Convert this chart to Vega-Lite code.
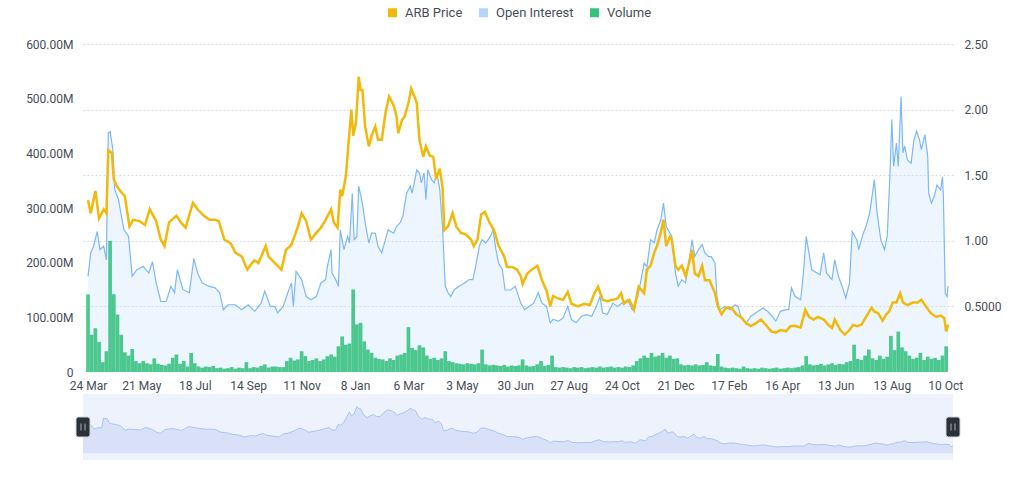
{
  "$schema": "https://vega.github.io/schema/vega-lite/v6.json",
  "background": "white",
  "padding": {"left": 25, "top": 6, "right": 5, "bottom": 5},
  "config": {"font": "Roboto", "view": {"stroke": null}},
  "datasets": {
    "price": [
      {"date":"2023-03-24","price":1.31},{"date":"2023-03-27","price":1.21},{"date":"2023-04-01","price":1.38},{"date":"2023-04-05","price":1.17},{"date":"2023-04-10","price":1.24},{"date":"2023-04-13","price":1.21},{"date":"2023-04-15","price":1.69},{"date":"2023-04-19","price":1.67},{"date":"2023-04-21","price":1.47},{"date":"2023-04-24","price":1.42},{"date":"2023-04-28","price":1.38},{"date":"2023-05-03","price":1.34},{"date":"2023-05-08","price":1.11},{"date":"2023-05-12","price":1.16},{"date":"2023-05-19","price":1.15},{"date":"2023-05-25","price":1.12},{"date":"2023-05-30","price":1.24},{"date":"2023-06-03","price":1.19},{"date":"2023-06-06","price":1.15},{"date":"2023-06-11","price":1.01},{"date":"2023-06-15","price":0.96},{"date":"2023-06-20","price":1.14},{"date":"2023-06-28","price":1.19},{"date":"2023-07-03","price":1.14},{"date":"2023-07-08","price":1.10},{"date":"2023-07-16","price":1.29},{"date":"2023-07-21","price":1.24},{"date":"2023-07-28","price":1.19},{"date":"2023-08-03","price":1.16},{"date":"2023-08-09","price":1.16},{"date":"2023-08-13","price":1.15},{"date":"2023-08-19","price":1.01},{"date":"2023-08-26","price":0.98},{"date":"2023-08-31","price":0.91},{"date":"2023-09-07","price":0.88},{"date":"2023-09-13","price":0.78},{"date":"2023-09-18","price":0.83},{"date":"2023-09-21","price":0.85},{"date":"2023-09-25","price":0.83},{"date":"2023-10-03","price":0.96},{"date":"2023-10-06","price":0.88},{"date":"2023-10-13","price":0.83},{"date":"2023-10-20","price":0.78},{"date":"2023-10-25","price":0.93},{"date":"2023-10-31","price":0.97},{"date":"2023-11-03","price":1.03},{"date":"2023-11-07","price":1.11},{"date":"2023-11-11","price":1.21},{"date":"2023-11-16","price":1.15},{"date":"2023-11-21","price":1.01},{"date":"2023-11-27","price":1.06},{"date":"2023-12-02","price":1.10},{"date":"2023-12-07","price":1.16},{"date":"2023-12-13","price":1.24},{"date":"2023-12-16","price":1.14},{"date":"2023-12-20","price":1.10},{"date":"2023-12-23","price":1.39},{"date":"2023-12-25","price":1.34},{"date":"2023-12-29","price":1.49},{"date":"2024-01-01","price":1.75},{"date":"2024-01-04","price":2.00},{"date":"2024-01-06","price":1.80},{"date":"2024-01-09","price":1.90},{"date":"2024-01-12","price":2.25},{"date":"2024-01-14","price":2.15},{"date":"2024-01-16","price":2.15},{"date":"2024-01-19","price":1.87},{"date":"2024-01-23","price":1.72},{"date":"2024-01-26","price":1.80},{"date":"2024-01-30","price":1.87},{"date":"2024-02-02","price":1.77},{"date":"2024-02-06","price":1.77},{"date":"2024-02-10","price":1.97},{"date":"2024-02-14","price":2.10},{"date":"2024-02-19","price":2.03},{"date":"2024-02-22","price":1.95},{"date":"2024-02-24","price":1.82},{"date":"2024-02-28","price":1.92},{"date":"2024-03-02","price":1.95},{"date":"2024-03-06","price":2.05},{"date":"2024-03-09","price":2.16},{"date":"2024-03-13","price":2.09},{"date":"2024-03-15","price":2.05},{"date":"2024-03-18","price":1.77},{"date":"2024-03-22","price":1.64},{"date":"2024-03-25","price":1.72},{"date":"2024-03-29","price":1.65},{"date":"2024-04-02","price":1.64},{"date":"2024-04-05","price":1.47},{"date":"2024-04-09","price":1.55},{"date":"2024-04-12","price":1.41},{"date":"2024-04-14","price":1.08},{"date":"2024-04-18","price":1.11},{"date":"2024-04-23","price":1.21},{"date":"2024-04-27","price":1.11},{"date":"2024-05-02","price":1.06},{"date":"2024-05-07","price":1.05},{"date":"2024-05-13","price":1.01},{"date":"2024-05-16","price":0.96},{"date":"2024-05-20","price":1.01},{"date":"2024-05-24","price":1.20},{"date":"2024-05-28","price":1.22},{"date":"2024-06-02","price":1.14},{"date":"2024-06-07","price":1.08},{"date":"2024-06-12","price":0.96},{"date":"2024-06-18","price":0.88},{"date":"2024-06-21","price":0.80},{"date":"2024-06-27","price":0.80},{"date":"2024-07-02","price":0.78},{"date":"2024-07-06","price":0.73},{"date":"2024-07-08","price":0.67},{"date":"2024-07-13","price":0.75},{"date":"2024-07-18","price":0.78},{"date":"2024-07-24","price":0.81},{"date":"2024-07-29","price":0.70},{"date":"2024-08-03","price":0.62},{"date":"2024-08-07","price":0.50},{"date":"2024-08-10","price":0.58},{"date":"2024-08-16","price":0.56},{"date":"2024-08-21","price":0.55},{"date":"2024-08-26","price":0.61},{"date":"2024-08-30","price":0.52},{"date":"2024-09-06","price":0.50},{"date":"2024-09-13","price":0.52},{"date":"2024-09-19","price":0.51},{"date":"2024-09-24","price":0.60},{"date":"2024-09-28","price":0.65},{"date":"2024-10-03","price":0.55},{"date":"2024-10-08","price":0.54},{"date":"2024-10-14","price":0.55},{"date":"2024-10-19","price":0.56},{"date":"2024-10-23","price":0.60},{"date":"2024-10-26","price":0.52},{"date":"2024-11-01","price":0.55},{"date":"2024-11-06","price":0.475},{"date":"2024-11-11","price":0.65},{"date":"2024-11-17","price":0.60},{"date":"2024-11-20","price":0.78},{"date":"2024-11-24","price":0.81},{"date":"2024-11-28","price":0.91},{"date":"2024-12-01","price":0.96},{"date":"2024-12-05","price":1.06},{"date":"2024-12-08","price":1.16},{"date":"2024-12-11","price":0.96},{"date":"2024-12-15","price":1.03},{"date":"2024-12-17","price":1.01},{"date":"2024-12-21","price":0.81},{"date":"2024-12-24","price":0.78},{"date":"2024-12-28","price":0.81},{"date":"2025-01-01","price":0.73},{"date":"2025-01-04","price":0.81},{"date":"2025-01-08","price":0.93},{"date":"2025-01-11","price":0.75},{"date":"2025-01-15","price":0.73},{"date":"2025-01-19","price":0.81},{"date":"2025-01-22","price":0.70},{"date":"2025-01-27","price":0.70},{"date":"2025-02-02","price":0.60},{"date":"2025-02-05","price":0.50},{"date":"2025-02-09","price":0.44},{"date":"2025-02-14","price":0.49},{"date":"2025-02-20","price":0.49},{"date":"2025-02-25","price":0.44},{"date":"2025-03-02","price":0.42},{"date":"2025-03-08","price":0.37},{"date":"2025-03-13","price":0.35},{"date":"2025-03-18","price":0.37},{"date":"2025-03-24","price":0.40},{"date":"2025-03-29","price":0.36},{"date":"2025-04-04","price":0.31},{"date":"2025-04-09","price":0.30},{"date":"2025-04-14","price":0.32},{"date":"2025-04-20","price":0.31},{"date":"2025-04-25","price":0.35},{"date":"2025-04-30","price":0.35},{"date":"2025-05-06","price":0.34},{"date":"2025-05-11","price":0.475},{"date":"2025-05-15","price":0.42},{"date":"2025-05-20","price":0.40},{"date":"2025-05-25","price":0.42},{"date":"2025-05-31","price":0.40},{"date":"2025-06-05","price":0.36},{"date":"2025-06-09","price":0.335},{"date":"2025-06-12","price":0.40},{"date":"2025-06-18","price":0.32},{"date":"2025-06-23","price":0.285},{"date":"2025-06-28","price":0.32},{"date":"2025-07-02","price":0.36},{"date":"2025-07-06","price":0.35},{"date":"2025-07-11","price":0.36},{"date":"2025-07-16","price":0.42},{"date":"2025-07-22","price":0.49},{"date":"2025-07-25","price":0.46},{"date":"2025-07-29","price":0.45},{"date":"2025-08-03","price":0.39},{"date":"2025-08-07","price":0.44},{"date":"2025-08-10","price":0.46},{"date":"2025-08-14","price":0.53},{"date":"2025-08-18","price":0.53},{"date":"2025-08-22","price":0.60},{"date":"2025-08-25","price":0.53},{"date":"2025-08-30","price":0.51},{"date":"2025-09-05","price":0.53},{"date":"2025-09-10","price":0.53},{"date":"2025-09-14","price":0.55},{"date":"2025-09-19","price":0.50},{"date":"2025-09-24","price":0.45},{"date":"2025-09-30","price":0.42},{"date":"2025-10-05","price":0.43},{"date":"2025-10-09","price":0.41},{"date":"2025-10-11","price":0.31},{"date":"2025-10-13","price":0.36}
    ],
    "oi": [
      {"date":"2023-03-24","oi":175},{"date":"2023-03-27","oi":218},{"date":"2023-03-30","oi":230},{"date":"2023-04-03","oi":257},{"date":"2023-04-06","oi":224},{"date":"2023-04-10","oi":230},{"date":"2023-04-13","oi":205},{"date":"2023-04-15","oi":437},{"date":"2023-04-17","oi":440},{"date":"2023-04-20","oi":407},{"date":"2023-04-22","oi":334},{"date":"2023-04-26","oi":316},{"date":"2023-05-02","oi":260},{"date":"2023-05-07","oi":248},{"date":"2023-05-11","oi":175},{"date":"2023-05-16","oi":187},{"date":"2023-05-23","oi":193},{"date":"2023-05-29","oi":181},{"date":"2023-06-02","oi":202},{"date":"2023-06-06","oi":163},{"date":"2023-06-11","oi":129},{"date":"2023-06-17","oi":129},{"date":"2023-06-22","oi":157},{"date":"2023-06-26","oi":145},{"date":"2023-06-29","oi":187},{"date":"2023-07-05","oi":151},{"date":"2023-07-12","oi":145},{"date":"2023-07-17","oi":208},{"date":"2023-07-21","oi":181},{"date":"2023-07-26","oi":163},{"date":"2023-08-02","oi":157},{"date":"2023-08-09","oi":154},{"date":"2023-08-14","oi":145},{"date":"2023-08-18","oi":114},{"date":"2023-08-23","oi":123},{"date":"2023-08-31","oi":123},{"date":"2023-09-07","oi":114},{"date":"2023-09-14","oi":123},{"date":"2023-09-21","oi":111},{"date":"2023-09-28","oi":126},{"date":"2023-10-02","oi":148},{"date":"2023-10-08","oi":120},{"date":"2023-10-13","oi":120},{"date":"2023-10-16","oi":108},{"date":"2023-10-22","oi":120},{"date":"2023-10-27","oi":145},{"date":"2023-10-31","oi":163},{"date":"2023-11-02","oi":120},{"date":"2023-11-05","oi":184},{"date":"2023-11-11","oi":169},{"date":"2023-11-16","oi":138},{"date":"2023-11-21","oi":132},{"date":"2023-11-27","oi":138},{"date":"2023-12-02","oi":163},{"date":"2023-12-07","oi":169},{"date":"2023-12-09","oi":193},{"date":"2023-12-13","oi":224},{"date":"2023-12-14","oi":181},{"date":"2023-12-18","oi":169},{"date":"2023-12-21","oi":157},{"date":"2023-12-23","oi":260},{"date":"2023-12-27","oi":224},{"date":"2023-12-31","oi":248},{"date":"2024-01-02","oi":236},{"date":"2024-01-05","oi":327},{"date":"2024-01-07","oi":242},{"date":"2024-01-10","oi":248},{"date":"2024-01-12","oi":340},{"date":"2024-01-16","oi":309},{"date":"2024-01-19","oi":273},{"date":"2024-01-23","oi":236},{"date":"2024-01-26","oi":254},{"date":"2024-01-30","oi":254},{"date":"2024-02-02","oi":230},{"date":"2024-02-06","oi":218},{"date":"2024-02-10","oi":242},{"date":"2024-02-13","oi":260},{"date":"2024-02-19","oi":254},{"date":"2024-02-22","oi":266},{"date":"2024-02-26","oi":273},{"date":"2024-02-29","oi":285},{"date":"2024-03-04","oi":327},{"date":"2024-03-08","oi":340},{"date":"2024-03-10","oi":327},{"date":"2024-03-13","oi":352},{"date":"2024-03-15","oi":370},{"date":"2024-03-18","oi":364},{"date":"2024-03-20","oi":346},{"date":"2024-03-23","oi":364},{"date":"2024-03-25","oi":315},{"date":"2024-03-27","oi":370},{"date":"2024-03-31","oi":352},{"date":"2024-04-03","oi":346},{"date":"2024-04-06","oi":364},{"date":"2024-04-09","oi":334},{"date":"2024-04-12","oi":266},{"date":"2024-04-15","oi":157},{"date":"2024-04-18","oi":145},{"date":"2024-04-21","oi":138},{"date":"2024-04-25","oi":151},{"date":"2024-04-30","oi":157},{"date":"2024-05-06","oi":163},{"date":"2024-05-11","oi":169},{"date":"2024-05-15","oi":169},{"date":"2024-05-18","oi":193},{"date":"2024-05-22","oi":230},{"date":"2024-05-25","oi":242},{"date":"2024-05-29","oi":236},{"date":"2024-06-03","oi":248},{"date":"2024-06-06","oi":260},{"date":"2024-06-09","oi":224},{"date":"2024-06-12","oi":199},{"date":"2024-06-16","oi":187},{"date":"2024-06-19","oi":150},{"date":"2024-06-25","oi":150},{"date":"2024-06-30","oi":157},{"date":"2024-07-06","oi":126},{"date":"2024-07-10","oi":114},{"date":"2024-07-15","oi":120},{"date":"2024-07-20","oi":126},{"date":"2024-07-25","oi":145},{"date":"2024-07-29","oi":126},{"date":"2024-08-03","oi":120},{"date":"2024-08-07","oi":90},{"date":"2024-08-10","oi":96},{"date":"2024-08-16","oi":93},{"date":"2024-08-21","oi":99},{"date":"2024-08-26","oi":120},{"date":"2024-08-30","oi":96},{"date":"2024-09-04","oi":90},{"date":"2024-09-10","oi":102},{"date":"2024-09-15","oi":105},{"date":"2024-09-21","oi":102},{"date":"2024-09-26","oi":120},{"date":"2024-09-30","oi":138},{"date":"2024-10-03","oi":108},{"date":"2024-10-08","oi":105},{"date":"2024-10-14","oi":126},{"date":"2024-10-19","oi":120},{"date":"2024-10-24","oi":126},{"date":"2024-10-30","oi":132},{"date":"2024-11-04","oi":114},{"date":"2024-11-10","oi":138},{"date":"2024-11-13","oi":163},{"date":"2024-11-17","oi":199},{"date":"2024-11-20","oi":193},{"date":"2024-11-24","oi":242},{"date":"2024-11-28","oi":236},{"date":"2024-12-01","oi":260},{"date":"2024-12-05","oi":278},{"date":"2024-12-08","oi":309},{"date":"2024-12-11","oi":266},{"date":"2024-12-15","oi":254},{"date":"2024-12-17","oi":248},{"date":"2024-12-21","oi":181},{"date":"2024-12-24","oi":157},{"date":"2024-12-28","oi":169},{"date":"2025-01-01","oi":163},{"date":"2025-01-04","oi":193},{"date":"2025-01-08","oi":242},{"date":"2025-01-11","oi":211},{"date":"2025-01-15","oi":224},{"date":"2025-01-19","oi":233},{"date":"2025-01-22","oi":218},{"date":"2025-01-26","oi":211},{"date":"2025-01-29","oi":211},{"date":"2025-02-02","oi":199},{"date":"2025-02-04","oi":138},{"date":"2025-02-07","oi":114},{"date":"2025-02-13","oi":120},{"date":"2025-02-18","oi":114},{"date":"2025-02-24","oi":123},{"date":"2025-02-27","oi":120},{"date":"2025-03-02","oi":102},{"date":"2025-03-08","oi":90},{"date":"2025-03-13","oi":102},{"date":"2025-03-18","oi":108},{"date":"2025-03-26","oi":117},{"date":"2025-03-31","oi":111},{"date":"2025-04-05","oi":102},{"date":"2025-04-09","oi":93},{"date":"2025-04-14","oi":111},{"date":"2025-04-20","oi":114},{"date":"2025-04-23","oi":114},{"date":"2025-04-26","oi":154},{"date":"2025-04-30","oi":138},{"date":"2025-05-06","oi":132},{"date":"2025-05-09","oi":181},{"date":"2025-05-12","oi":248},{"date":"2025-05-15","oi":218},{"date":"2025-05-18","oi":187},{"date":"2025-05-24","oi":181},{"date":"2025-05-27","oi":178},{"date":"2025-05-31","oi":218},{"date":"2025-06-03","oi":181},{"date":"2025-06-09","oi":169},{"date":"2025-06-12","oi":205},{"date":"2025-06-16","oi":175},{"date":"2025-06-20","oi":157},{"date":"2025-06-24","oi":135},{"date":"2025-06-28","oi":163},{"date":"2025-07-01","oi":257},{"date":"2025-07-06","oi":242},{"date":"2025-07-08","oi":224},{"date":"2025-07-13","oi":254},{"date":"2025-07-16","oi":266},{"date":"2025-07-20","oi":291},{"date":"2025-07-25","oi":352},{"date":"2025-07-28","oi":291},{"date":"2025-08-01","oi":242},{"date":"2025-08-05","oi":224},{"date":"2025-08-08","oi":248},{"date":"2025-08-11","oi":364},{"date":"2025-08-13","oi":462},{"date":"2025-08-15","oi":376},{"date":"2025-08-18","oi":419},{"date":"2025-08-20","oi":376},{"date":"2025-08-23","oi":504},{"date":"2025-08-25","oi":401},{"date":"2025-08-27","oi":413},{"date":"2025-08-30","oi":388},{"date":"2025-09-03","oi":382},{"date":"2025-09-06","oi":425},{"date":"2025-09-09","oi":440},{"date":"2025-09-12","oi":425},{"date":"2025-09-14","oi":407},{"date":"2025-09-18","oi":434},{"date":"2025-09-21","oi":394},{"date":"2025-09-22","oi":327},{"date":"2025-09-25","oi":309},{"date":"2025-09-28","oi":321},{"date":"2025-10-01","oi":342},{"date":"2025-10-05","oi":333},{"date":"2025-10-07","oi":357},{"date":"2025-10-08","oi":321},{"date":"2025-10-10","oi":144},{"date":"2025-10-12","oi":138},{"date":"2025-10-13","oi":157}
    ],
    "volume": [
      {"date":"2023-03-24","vol":142},{"date":"2023-03-28","vol":68},{"date":"2023-04-01","vol":80},{"date":"2023-04-05","vol":55},{"date":"2023-04-09","vol":18},{"date":"2023-04-13","vol":38},{"date":"2023-04-17","vol":240},{"date":"2023-04-21","vol":142},{"date":"2023-04-25","vol":105},{"date":"2023-04-29","vol":68},{"date":"2023-05-03","vol":36},{"date":"2023-05-07","vol":30},{"date":"2023-05-11","vol":42},{"date":"2023-05-15","vol":20},{"date":"2023-05-19","vol":16},{"date":"2023-05-23","vol":20},{"date":"2023-05-27","vol":16},{"date":"2023-05-31","vol":14},{"date":"2023-06-04","vol":25},{"date":"2023-06-08","vol":15},{"date":"2023-06-12","vol":13},{"date":"2023-06-16","vol":12},{"date":"2023-06-20","vol":15},{"date":"2023-06-24","vol":26},{"date":"2023-06-28","vol":32},{"date":"2023-07-02","vol":15},{"date":"2023-07-06","vol":20},{"date":"2023-07-10","vol":10},{"date":"2023-07-14","vol":35},{"date":"2023-07-18","vol":16},{"date":"2023-07-22","vol":10},{"date":"2023-07-26","vol":8},{"date":"2023-07-30","vol":10},{"date":"2023-08-03","vol":9},{"date":"2023-08-07","vol":11},{"date":"2023-08-11","vol":7},{"date":"2023-08-15","vol":8},{"date":"2023-08-19","vol":6},{"date":"2023-08-23","vol":7},{"date":"2023-08-27","vol":9},{"date":"2023-08-31","vol":6},{"date":"2023-09-04","vol":8},{"date":"2023-09-08","vol":7},{"date":"2023-09-12","vol":18},{"date":"2023-09-16","vol":7},{"date":"2023-09-20","vol":9},{"date":"2023-09-24","vol":8},{"date":"2023-09-28","vol":11},{"date":"2023-10-02","vol":14},{"date":"2023-10-06","vol":8},{"date":"2023-10-10","vol":10},{"date":"2023-10-14","vol":10},{"date":"2023-10-18","vol":9},{"date":"2023-10-22","vol":9},{"date":"2023-10-26","vol":20},{"date":"2023-10-30","vol":26},{"date":"2023-11-03","vol":21},{"date":"2023-11-07","vol":23},{"date":"2023-11-11","vol":38},{"date":"2023-11-15","vol":29},{"date":"2023-11-19","vol":20},{"date":"2023-11-23","vol":22},{"date":"2023-11-27","vol":25},{"date":"2023-12-01","vol":20},{"date":"2023-12-05","vol":23},{"date":"2023-12-09","vol":29},{"date":"2023-12-13","vol":32},{"date":"2023-12-17","vol":28},{"date":"2023-12-21","vol":47},{"date":"2023-12-25","vol":65},{"date":"2023-12-29","vol":50},{"date":"2024-01-02","vol":52},{"date":"2024-01-06","vol":151},{"date":"2024-01-10","vol":87},{"date":"2024-01-14","vol":90},{"date":"2024-01-18","vol":56},{"date":"2024-01-22","vol":41},{"date":"2024-01-26","vol":35},{"date":"2024-01-30","vol":26},{"date":"2024-02-03","vol":24},{"date":"2024-02-07","vol":23},{"date":"2024-02-11","vol":20},{"date":"2024-02-15","vol":25},{"date":"2024-02-19","vol":22},{"date":"2024-02-23","vol":30},{"date":"2024-02-27","vol":32},{"date":"2024-03-02","vol":35},{"date":"2024-03-06","vol":82},{"date":"2024-03-10","vol":44},{"date":"2024-03-14","vol":40},{"date":"2024-03-18","vol":49},{"date":"2024-03-22","vol":45},{"date":"2024-03-26","vol":30},{"date":"2024-03-30","vol":24},{"date":"2024-04-03","vol":26},{"date":"2024-04-07","vol":22},{"date":"2024-04-11","vol":25},{"date":"2024-04-15","vol":38},{"date":"2024-04-19","vol":20},{"date":"2024-04-23","vol":18},{"date":"2024-04-27","vol":16},{"date":"2024-05-01","vol":15},{"date":"2024-05-05","vol":14},{"date":"2024-05-09","vol":16},{"date":"2024-05-13","vol":15},{"date":"2024-05-17","vol":14},{"date":"2024-05-21","vol":16},{"date":"2024-05-25","vol":41},{"date":"2024-05-29","vol":14},{"date":"2024-06-02","vol":12},{"date":"2024-06-06","vol":13},{"date":"2024-06-10","vol":12},{"date":"2024-06-14","vol":11},{"date":"2024-06-18","vol":13},{"date":"2024-06-22","vol":10},{"date":"2024-06-26","vol":12},{"date":"2024-06-30","vol":11},{"date":"2024-07-04","vol":12},{"date":"2024-07-08","vol":23},{"date":"2024-07-12","vol":12},{"date":"2024-07-16","vol":10},{"date":"2024-07-20","vol":11},{"date":"2024-07-24","vol":14},{"date":"2024-07-28","vol":20},{"date":"2024-08-01","vol":11},{"date":"2024-08-05","vol":13},{"date":"2024-08-09","vol":30},{"date":"2024-08-13","vol":9},{"date":"2024-08-17","vol":8},{"date":"2024-08-21","vol":9},{"date":"2024-08-25","vol":8},{"date":"2024-08-29","vol":7},{"date":"2024-09-02","vol":9},{"date":"2024-09-06","vol":8},{"date":"2024-09-10","vol":9},{"date":"2024-09-14","vol":7},{"date":"2024-09-18","vol":8},{"date":"2024-09-22","vol":9},{"date":"2024-09-26","vol":8},{"date":"2024-09-30","vol":10},{"date":"2024-10-04","vol":8},{"date":"2024-10-08","vol":9},{"date":"2024-10-12","vol":10},{"date":"2024-10-16","vol":8},{"date":"2024-10-20","vol":9},{"date":"2024-10-24","vol":8},{"date":"2024-10-28","vol":10},{"date":"2024-11-01","vol":9},{"date":"2024-11-05","vol":12},{"date":"2024-11-09","vol":20},{"date":"2024-11-13","vol":25},{"date":"2024-11-17","vol":30},{"date":"2024-11-21","vol":26},{"date":"2024-11-25","vol":35},{"date":"2024-11-29","vol":28},{"date":"2024-12-03","vol":30},{"date":"2024-12-07","vol":35},{"date":"2024-12-11","vol":26},{"date":"2024-12-15","vol":30},{"date":"2024-12-19","vol":24},{"date":"2024-12-23","vol":25},{"date":"2024-12-27","vol":14},{"date":"2024-12-31","vol":12},{"date":"2025-01-04","vol":13},{"date":"2025-01-08","vol":12},{"date":"2025-01-12","vol":14},{"date":"2025-01-16","vol":12},{"date":"2025-01-20","vol":13},{"date":"2025-01-24","vol":18},{"date":"2025-01-28","vol":12},{"date":"2025-02-01","vol":11},{"date":"2025-02-05","vol":33},{"date":"2025-02-09","vol":10},{"date":"2025-02-13","vol":8},{"date":"2025-02-17","vol":7},{"date":"2025-02-21","vol":8},{"date":"2025-02-25","vol":7},{"date":"2025-03-01","vol":6},{"date":"2025-03-05","vol":10},{"date":"2025-03-09","vol":7},{"date":"2025-03-13","vol":6},{"date":"2025-03-17","vol":7},{"date":"2025-03-21","vol":6},{"date":"2025-03-25","vol":8},{"date":"2025-03-29","vol":7},{"date":"2025-04-02","vol":6},{"date":"2025-04-06","vol":7},{"date":"2025-04-10","vol":8},{"date":"2025-04-14","vol":6},{"date":"2025-04-18","vol":7},{"date":"2025-04-22","vol":8},{"date":"2025-04-26","vol":7},{"date":"2025-04-30","vol":8},{"date":"2025-05-04","vol":9},{"date":"2025-05-08","vol":12},{"date":"2025-05-12","vol":29},{"date":"2025-05-16","vol":14},{"date":"2025-05-20","vol":12},{"date":"2025-05-24","vol":13},{"date":"2025-05-28","vol":15},{"date":"2025-06-01","vol":12},{"date":"2025-06-05","vol":14},{"date":"2025-06-09","vol":16},{"date":"2025-06-13","vol":13},{"date":"2025-06-17","vol":15},{"date":"2025-06-21","vol":14},{"date":"2025-06-25","vol":18},{"date":"2025-06-29","vol":20},{"date":"2025-07-03","vol":50},{"date":"2025-07-07","vol":24},{"date":"2025-07-11","vol":22},{"date":"2025-07-15","vol":30},{"date":"2025-07-19","vol":41},{"date":"2025-07-23","vol":25},{"date":"2025-07-27","vol":22},{"date":"2025-07-31","vol":30},{"date":"2025-08-04","vol":24},{"date":"2025-08-08","vol":28},{"date":"2025-08-12","vol":66},{"date":"2025-08-16","vol":40},{"date":"2025-08-20","vol":74},{"date":"2025-08-24","vol":45},{"date":"2025-08-28","vol":38},{"date":"2025-09-01","vol":30},{"date":"2025-09-05","vol":24},{"date":"2025-09-09","vol":26},{"date":"2025-09-13","vol":35},{"date":"2025-09-17","vol":22},{"date":"2025-09-21","vol":28},{"date":"2025-09-25","vol":24},{"date":"2025-09-29","vol":26},{"date":"2025-10-03","vol":22},{"date":"2025-10-07","vol":30},{"date":"2025-10-11","vol":47}
    ],
    "handles": [{"date":"2023-03-24"},{"date":"2025-10-13"}]
  },
  "resolve": {"scale": {"x": "independent", "y": "independent"}},
  "bounds": "flush",
  "spacing": 22,
  "vconcat": [
    {
      "width": 870,
      "height": 328,
      "encoding": {
        "x": {
          "field": "date", "type": "temporal", "title": null,
          "scale": {"type": "utc", "domain": [{"year": 2023, "month": 3, "date": 24, "utc": true}, {"year": 2025, "month": 10, "date": 13, "utc": true}]},
          "axis": {
            "values": [{"year":2023,"month":3,"date":24,"utc":true},{"year":2023,"month":5,"date":21,"utc":true},{"year":2023,"month":7,"date":18,"utc":true},{"year":2023,"month":9,"date":14,"utc":true},{"year":2023,"month":11,"date":11,"utc":true},{"year":2024,"month":1,"date":8,"utc":true},{"year":2024,"month":3,"date":6,"utc":true},{"year":2024,"month":5,"date":3,"utc":true},{"year":2024,"month":6,"date":30,"utc":true},{"year":2024,"month":8,"date":27,"utc":true},{"year":2024,"month":10,"date":24,"utc":true},{"year":2024,"month":12,"date":21,"utc":true},{"year":2025,"month":2,"date":17,"utc":true},{"year":2025,"month":4,"date":16,"utc":true},{"year":2025,"month":6,"date":13,"utc":true},{"year":2025,"month":8,"date":13,"utc":true},{"year":2025,"month":10,"date":10,"utc":true}],
            "format": "%-d %b", "labelFlush": false, "labelOverlap": false, "ticks": false, "domain": false, "grid": false,
            "labelPadding": 8, "labelFontSize": 12, "labelColor": "#474d57", "labelFont": "Roboto"
          }
        }
      },
      "layer": [
        {
          "layer": [
            {
              "data": {"name": "oi"},
              "mark": {"type": "area", "color": "#d3e7fd", "opacity": 0.4},
              "encoding": {
                "y": {"field": "oi", "type": "quantitative", "title": null, "scale": {"domain": [0, 600]},
                  "axis": {"values": [0, 100, 200, 300, 400, 500, 600], "labelExpr": "datum.value == 0 ? '0' : format(datum.value, '.2f') + 'M'", "grid": false, "ticks": false, "domain": false, "labelPadding": 10, "labelFontSize": 12, "labelColor": "#474d57", "labelFont": "Roboto"}}
              }
            },
            {
              "data": {"name": "oi"},
              "mark": {"type": "line", "color": "#7db9f3", "strokeWidth": 1.2},
              "encoding": {"y": {"field": "oi", "type": "quantitative", "title": null}}
            },
            {
              "data": {"name": "volume"},
              "mark": {"type": "bar", "width": 3.7, "opacity": 0.88},
              "encoding": {
                "y": {"field": "vol", "type": "quantitative", "title": null},
                "color": {
                  "datum": "Volume",
                  "scale": {"domain": ["ARB Price", "Open Interest", "Volume"], "range": ["#F0B90B", "#b8d3f9", "#35c27f"]},
                  "legend": {"orient": "none", "legendX": 303, "legendY": -38, "direction": "horizontal", "title": null, "symbolType": "square", "symbolSize": 81, "symbolStrokeWidth": 0, "symbolOpacity": 1, "labelFontSize": 13, "labelColor": "#474d57", "labelFont": "Roboto", "labelOffset": 6, "columnPadding": 14}
                }
              }
            }
          ]
        },
        {
          "data": {"name": "price"},
          "mark": {"type": "line", "color": "#F0B90B", "strokeWidth": 2.5},
          "encoding": {
            "y": {"field": "price", "type": "quantitative", "title": null, "scale": {"domain": [0, 2.5]},
              "axis": {"orient": "right", "values": [0.5, 1, 1.5, 2, 2.5], "labelExpr": "datum.value >= 1 ? format(datum.value, '.2f') : format(datum.value, '.4f')", "grid": true, "gridDash": [2, 2], "gridColor": "#d6d9dd", "ticks": false, "domain": false, "labelPadding": 11, "labelFontSize": 12, "labelColor": "#474d57", "labelFont": "Roboto"}}
          }
        }
      ],
      "resolve": {"scale": {"y": "independent"}}
    },
    {
      "width": 870,
      "height": 66,
      "view": {"fill": "#eef2fc", "stroke": null},
      "encoding": {
        "x": {"field": "date", "type": "temporal", "axis": null,
          "scale": {"type": "utc", "domain": [{"year": 2023, "month": 3, "date": 24, "utc": true}, {"year": 2025, "month": 10, "date": 13, "utc": true}]}}
      },
      "layer": [
        {
          "data": {"name": "price"},
          "mark": {"type": "area", "color": "#d8e1f8"},
          "encoding": {"y": {"field": "price", "type": "quantitative", "axis": null, "scale": {"domain": [-0.33, 2.86]}}}
        },
        {
          "data": {"name": "price"},
          "mark": {"type": "line", "color": "#a9c6f2", "strokeWidth": 1},
          "encoding": {"y": {"field": "price", "type": "quantitative", "axis": null, "scale": {"domain": [-0.33, 2.86]}}}
        },
        {
          "data": {"name": "handles"},
          "mark": {"type": "point", "shape": "M-0.45,-1 L0.45,-1 Q0.7,-1 0.7,-0.75 L0.7,0.75 Q0.7,1 0.45,1 L-0.45,1 Q-0.7,1 -0.7,0.75 L-0.7,-0.75 Q-0.7,-1 -0.45,-1 Z", "size": 400, "filled": true, "fill": "#2b3139", "stroke": "#cfd3d9", "strokeWidth": 1, "opacity": 1},
          "encoding": {}
        },
        {
          "data": {"name": "handles"},
          "mark": {"type": "point", "shape": "M-0.2,-0.35 L-0.2,0.35 M0.2,-0.35 L0.2,0.35", "size": 400, "filled": false, "stroke": "#aab1ba", "strokeWidth": 1, "opacity": 1},
          "encoding": {}
        }
      ]
    }
  ]
}
